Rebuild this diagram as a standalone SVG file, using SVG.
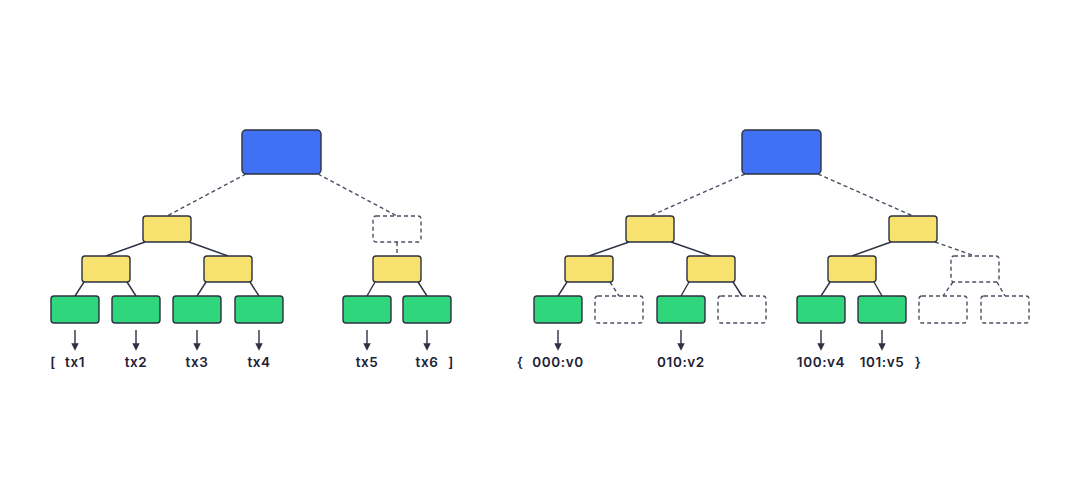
<svg xmlns="http://www.w3.org/2000/svg" width="1080" height="499" viewBox="0 0 1080 499">
<defs>
<marker id="ah" viewBox="0 0 8 8" refX="4" refY="4" markerWidth="7.5" markerHeight="7.5" markerUnits="userSpaceOnUse" orient="auto">
<path d="M0,0 L8,4 L0,8 Z" fill="#2d3142"/>
</marker>
<style>
.root{fill:#4070f4;stroke:#2d3142;stroke-width:1.4}
.mid{fill:#f7e26f;stroke:#2d3142;stroke-width:1.4}
.leaf{fill:#2fd67b;stroke:#2d3142;stroke-width:1.4}
.empty{fill:none;stroke:#4a4f62;stroke-width:1.4;stroke-dasharray:4 3}
.s{stroke:#2d3142;stroke-width:1.4;fill:none}
.d{stroke:#4a4f62;stroke-width:1.4;fill:none;stroke-dasharray:4 3}
.a{stroke:#2d3142;stroke-width:1.4;fill:none;marker-end:url(#ah)}
text{font-family:Inter,"Liberation Sans",sans-serif;font-size:13.5px;font-weight:600;letter-spacing:0.6px;fill:#1e2235;text-anchor:middle}
</style>
</defs>
<rect width="1080" height="499" fill="#ffffff"/>

<g id="connectors">
<line class="d" x1="246" y1="174" x2="167" y2="216"/>
<line class="d" x1="318" y1="174" x2="397" y2="216"/>
<line class="s" x1="145" y1="242" x2="106" y2="256"/>
<line class="s" x1="189" y1="242" x2="228" y2="256"/>
<line class="d" x1="397" y1="242" x2="397" y2="256"/>
<line class="s" x1="84" y1="282" x2="75" y2="296"/>
<line class="s" x1="127" y1="282" x2="136" y2="296"/>
<line class="s" x1="206" y1="282" x2="197" y2="296"/>
<line class="s" x1="250" y1="282" x2="259" y2="296"/>
<line class="s" x1="375" y1="282" x2="367" y2="296"/>
<line class="s" x1="418" y1="282" x2="427" y2="296"/>
<line class="a" x1="75" y1="330" x2="75" y2="347"/>
<line class="a" x1="136" y1="330" x2="136" y2="347"/>
<line class="a" x1="197" y1="330" x2="197" y2="347"/>
<line class="a" x1="259" y1="330" x2="259" y2="347"/>
<line class="a" x1="367" y1="330" x2="367" y2="347"/>
<line class="a" x1="427" y1="330" x2="427" y2="347"/>
<line class="d" x1="745" y1="174" x2="650" y2="216"/>
<line class="d" x1="818" y1="174" x2="913" y2="216"/>
<line class="s" x1="629" y1="242" x2="589" y2="256"/>
<line class="s" x1="671" y1="242" x2="711" y2="256"/>
<line class="s" x1="891" y1="242" x2="852" y2="256"/>
<line class="d" x1="935" y1="242" x2="975" y2="256"/>
<line class="s" x1="567" y1="282" x2="558" y2="296"/>
<line class="d" x1="610" y1="282" x2="619" y2="296"/>
<line class="s" x1="689" y1="282" x2="681" y2="296"/>
<line class="s" x1="733" y1="282" x2="742" y2="296"/>
<line class="s" x1="830" y1="282" x2="821" y2="296"/>
<line class="s" x1="874" y1="282" x2="882" y2="296"/>
<line class="d" x1="953" y1="282" x2="943" y2="296"/>
<line class="d" x1="997" y1="282" x2="1005" y2="296"/>
<line class="a" x1="558" y1="330" x2="558" y2="347"/>
<line class="a" x1="681" y1="330" x2="681" y2="347"/>
<line class="a" x1="821" y1="330" x2="821" y2="347"/>
<line class="a" x1="882" y1="330" x2="882" y2="347"/>
</g>

<g id="left-tree">
<g id="l-root"><rect class="root" x="242" y="130" width="79" height="44" rx="4"/></g>
<g id="l-n0"><rect class="mid" x="143" y="216" width="48" height="26" rx="3"/></g>
<g id="l-n1"><rect class="empty" x="373" y="216" width="48" height="26" rx="3"/></g>
<g id="l-n00"><rect class="mid" x="82" y="256" width="48" height="26" rx="3"/></g>
<g id="l-n01"><rect class="mid" x="204" y="256" width="48" height="26" rx="3"/></g>
<g id="l-n10"><rect class="mid" x="373" y="256" width="48" height="26" rx="3"/></g>
<g id="l-tx1"><rect class="leaf" x="51" y="296" width="48" height="27" rx="3"/></g>
<g id="l-tx2"><rect class="leaf" x="112" y="296" width="48" height="27" rx="3"/></g>
<g id="l-tx3"><rect class="leaf" x="173" y="296" width="48" height="27" rx="3"/></g>
<g id="l-tx4"><rect class="leaf" x="235" y="296" width="48" height="27" rx="3"/></g>
<g id="l-tx5"><rect class="leaf" x="343" y="296" width="48" height="27" rx="3"/></g>
<g id="l-tx6"><rect class="leaf" x="403" y="296" width="48" height="27" rx="3"/></g>
<g id="l-labels">
<text x="53" y="367">[</text>
<text x="75" y="367">tx1</text>
<text x="136" y="367">tx2</text>
<text x="197" y="367">tx3</text>
<text x="259" y="367">tx4</text>
<text x="367" y="367">tx5</text>
<text x="427" y="367">tx6</text>
<text x="451" y="367">]</text>
</g>
</g>

<g id="right-tree">
<g id="r-root"><rect class="root" x="742" y="130" width="79" height="44" rx="4"/></g>
<g id="r-n0"><rect class="mid" x="626" y="216" width="48" height="26" rx="3"/></g>
<g id="r-n1"><rect class="mid" x="889" y="216" width="48" height="26" rx="3"/></g>
<g id="r-n00"><rect class="mid" x="565" y="256" width="48" height="26" rx="3"/></g>
<g id="r-n01"><rect class="mid" x="687" y="256" width="48" height="26" rx="3"/></g>
<g id="r-n10"><rect class="mid" x="828" y="256" width="48" height="26" rx="3"/></g>
<g id="r-n11"><rect class="empty" x="951" y="256" width="48" height="26" rx="3"/></g>
<g id="r-000"><rect class="leaf" x="534" y="296" width="48" height="27" rx="3"/></g>
<g id="r-001"><rect class="empty" x="595" y="296" width="48" height="27" rx="3"/></g>
<g id="r-010"><rect class="leaf" x="657" y="296" width="48" height="27" rx="3"/></g>
<g id="r-011"><rect class="empty" x="718" y="296" width="48" height="27" rx="3"/></g>
<g id="r-100"><rect class="leaf" x="797" y="296" width="48" height="27" rx="3"/></g>
<g id="r-101"><rect class="leaf" x="858" y="296" width="48" height="27" rx="3"/></g>
<g id="r-110"><rect class="empty" x="919" y="296" width="48" height="27" rx="3"/></g>
<g id="r-111"><rect class="empty" x="981" y="296" width="48" height="27" rx="3"/></g>
<g id="r-labels">
<text x="520" y="367">{</text>
<text x="558" y="367">000:v0</text>
<text x="681" y="367">010:v2</text>
<text x="821" y="367">100:v4</text>
<text x="882" y="367">101:v5</text>
<text x="918" y="367">}</text>
</g>
</g>
</svg>
